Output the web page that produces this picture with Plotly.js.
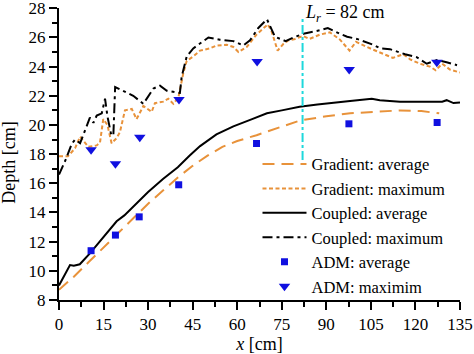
<!DOCTYPE html>
<html>
<head>
<meta charset="utf-8">
<script src="https://cdn.plot.ly/plotly-3.0.1.min.js"></script>
<style>html,body{margin:0;padding:0;background:#fff;}#chart{width:474px;height:354px;}</style>
</head>
<body>
<div id="chart"></div>
<script>
// ---- data ----
const gradAvgX = [0, 5, 10, 15, 20, 25, 30, 35, 40, 45, 50, 55, 60, 66.5, 75, 81, 90, 98, 106, 115, 122, 128];
const gradAvgY = [8.7, 9.6, 10.6, 11.6, 12.6, 13.6, 14.6, 15.5, 16.4, 17.2, 17.9, 18.5, 18.9, 19.3, 19.9, 20.3, 20.6, 20.8, 20.9, 21.0, 20.95, 20.8];

const gradMaxX = [0, 3, 5.4, 7.1, 9.9, 12.7, 13.8, 14.9, 16.3, 17.7, 19.4, 20.5, 22.2, 24.5, 26.1, 28.4, 31.2, 32.3, 35.1, 36.8, 38.5, 40.2, 41.9, 43, 45.2, 47.5, 50.8, 53.1, 56.5, 58.7, 60.4, 63.2, 66.5, 70.3, 71.6, 73.6, 75.5, 77.2, 79.5, 82.2, 84.3, 87.9, 91.2, 94.6, 97.8, 100, 105.3, 109.2, 112.4, 115.9, 118.2, 121.5, 124.9, 126.8, 129, 131.6, 135];
const gradMaxY = [17.85, 17.85, 18.4, 19.2, 18.5, 18.6, 18.8, 20.4, 20.0, 18.75, 19.1, 19.5, 21.0, 21.1, 20.4, 21.3, 20.9, 21.5, 21.6, 21.8, 21.45, 21.9, 23.6, 24.4, 24.7, 25.1, 25.25, 25.45, 25.5, 25.35, 25.0, 25.35, 26.2, 26.9, 26.4, 25.1, 25.55, 25.8, 25.9, 26.1, 25.9, 26.2, 26.35, 25.85, 25.1, 25.7, 25.2, 24.85, 24.6, 24.85, 24.5, 24.2, 24.0, 23.75, 24.2, 23.8, 23.6];

const coupAvgX = [0, 1.5, 3.7, 5, 7, 10.4, 15, 19.4, 22, 25, 30, 35, 40, 44, 47.5, 53, 58.7, 65, 70, 75, 81, 87, 92.4, 98, 105.3, 108, 114.8, 120, 126, 129, 130.5, 132.8, 135];
const coupAvgY = [9.0, 9.6, 10.4, 10.35, 10.45, 11.2, 12.3, 13.4, 13.8, 14.4, 15.4, 16.3, 17.1, 17.9, 18.55, 19.35, 19.9, 20.4, 20.8, 21.0, 21.25, 21.4, 21.5, 21.65, 21.8, 21.7, 21.6, 21.6, 21.6, 21.6, 21.7, 21.5, 21.55];

const coupMaxX = [0, 2, 4.3, 5.4, 7.1, 8.8, 10.4, 11.6, 12.7, 14.4, 15.5, 16.3, 17.6, 18.3, 18.9, 25, 28.4, 31.8, 34, 36.3, 40.7, 41.3, 43, 45.2, 47.5, 50.3, 54.2, 58.7, 62.1, 64.3, 67.1, 70, 72.7, 76.3, 78.9, 82.3, 87.9, 90.5, 94.6, 97, 100.3, 105.8, 108.2, 111.4, 116.5, 120.4, 123.8, 127.2, 130.5, 134];
const coupMaxY = [16.6, 17.5, 18.7, 19.0, 18.75, 19.7, 20.5, 20.15, 20.65, 20.8, 21.8, 20.6, 19.3, 19.3, 22.6, 22.0, 21.45, 22.5, 22.7, 22.35, 22.2, 23.3, 24.7, 25.25, 25.6, 26.0, 25.85, 25.75, 25.45, 25.8, 26.65, 27.25, 26.05, 25.75, 26.0, 26.25, 26.5, 26.65, 26.25, 26.05, 25.9, 25.5, 25.25, 25.2, 24.85, 24.65, 24.2, 24.45, 24.3, 24.1];

const admAvgX = [10.8, 19.0, 27.0, 40.3, 66.5, 97.6, 127.3];
const admAvgY = [11.38, 12.45, 13.7, 15.9, 18.73, 20.08, 20.17];
const admMaxX = [10.8, 19.0, 27.2, 40.4, 66.7, 97.7, 127.2];
const admMaxY = [18.3, 17.35, 19.15, 21.75, 24.35, 23.8, 24.3];

const Lr = 82;
const LrLineY = [17.6, 27.4];

const yTickVals = [8, 10, 12, 14, 16, 18, 20, 22, 24, 26, 28];

const names = ['Gradient: average', 'Gradient: maximum', 'Coupled: average', 'Coupled: maximum', 'ADM: average', 'ADM: maximim'];

// ---- styles ----
const orange = '#E8923A';
const blue = '#1010E0';
const serif = 'Liberation Serif, Times New Roman, serif';

const traces = [
  {x: gradAvgX, y: gradAvgY, name: names[0], mode: 'lines', line: {color: orange, width: 2, dash: '12px,7px'}},
  {x: gradMaxX, y: gradMaxY, name: names[1], mode: 'lines', line: {color: orange, width: 2, dash: '4px,2.5px'}},
  {x: coupAvgX, y: coupAvgY, name: names[2], mode: 'lines', line: {color: '#000', width: 2}},
  {x: coupMaxX, y: coupMaxY, name: names[3], mode: 'lines', line: {color: '#000', width: 2, dash: '10px,4px,3px,4px'}},
  {x: admAvgX, y: admAvgY, name: names[4], mode: 'markers', marker: {color: blue, symbol: 'square', size: 7}},
  {x: admMaxX, y: admMaxY, name: names[5], mode: 'markers', marker: {color: blue, symbol: 'triangle-down', size: 10}},
  {x: [Lr, Lr], y: LrLineY, mode: 'lines', showlegend: false, line: {color: '#1ED8DC', width: 2, dash: '9px,3px,3px,3px'}, hoverinfo: 'skip'}
];

const axisCommon = {
  showline: true, linewidth: 2, linecolor: '#000', mirror: false,
  showgrid: false, zeroline: false,
  ticks: 'outside', ticklen: 8, tickwidth: 2, tickcolor: '#000',
  tickfont: {family: serif, size: 17, color: '#000'},
  ticklabeloverflow: 'allow'
};

const layout = {
  width: 474, height: 354,
  margin: {l: 59, r: 14, t: 8, b: 54},
  paper_bgcolor: '#fff', plot_bgcolor: '#fff',
  showlegend: true,
  legend: {
    x: 0.495, y: 0.525, xanchor: 'left', yanchor: 'top',
    bgcolor: 'rgba(255,255,255,0)', borderwidth: 0,
    font: {family: serif, size: 16.5, color: '#000'},
    itemwidth: 44, tracegroupgap: 0
  },
  xaxis: Object.assign({}, axisCommon, {
    range: [0, 135], tick0: 0, dtick: 15,
    minor: {ticks: 'outside', dtick: 7.5, ticklen: 5, tickwidth: 2, tickcolor: '#000'},
    title: {text: '<i>x</i> [cm]', font: {family: serif, size: 18, color: '#000'}, standoff: 4}
  }),
  yaxis: Object.assign({}, axisCommon, {
    range: [8, 28.02], tickmode: 'array', tickvals: yTickVals,
    minor: {ticks: 'outside', dtick: 1, tick0: 8, ticklen: 5, tickwidth: 2, tickcolor: '#000'}
  }),
  annotations: [
    {xref: 'x', yref: 'y', x: Lr + 0.3, y: 27.65, xanchor: 'left', yanchor: 'middle', showarrow: false,
     text: '<i>L</i><sub><i>r</i></sub> = 82 cm', font: {family: serif, size: 18, color: '#000'}},
    {xref: 'paper', yref: 'paper', x: -0.125, y: 0.47, xanchor: 'center', yanchor: 'middle', showarrow: false,
     textangle: -90, text: 'Depth [cm]', font: {family: serif, size: 18, color: '#000'}}
  ]
};

Plotly.newPlot('chart', traces, layout, {staticPlot: true, displayModeBar: false});
</script>
</body>
</html>
